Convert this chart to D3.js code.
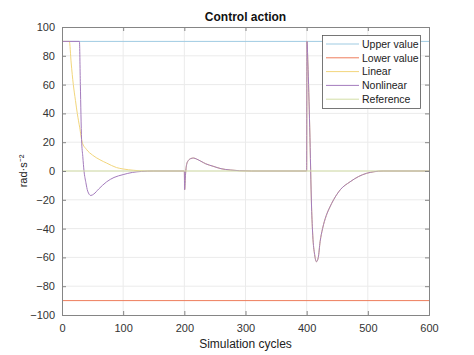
<!DOCTYPE html>
<html><head><meta charset="utf-8">
<script src="https://cdn.jsdelivr.net/npm/d3@7"></script>
<style>body{margin:0;background:#fff}svg{display:block;font-family:"Liberation Sans",Arial,sans-serif}</style>
</head><body><svg id="c" width="474" height="355"></svg>
<script>
const seriesNames = ["Upper value","Lower value","Linear","Nonlinear","Reference"];
const seriesColors = ["#9fcbe2","#ee7d5c","#f2d67c","#a47cbd","#d3dea6"];
const xTicks = [0,100,200,300,400,500,600];
const yTicks = [-100,-80,-60,-40,-20,0,20,40,60,80,100];

const upperX = [0,600], upperY = [90,90];
const lowerX = [0,600], lowerY = [-90,-90];
const refX = [0,600], refY = [0,0];

const linearX = [0,12,15,18.5,22,25,29,33,40,50,62,73,89,100,117,135,200,200.5,202,204,207,211,215,220,227,235,247,260,275,290,310,400,400.5,402,405,408,410,413,416,419,422,426,432,438,444,455,471,485,498,510,525,600];
const linearY = [90,90,75,60,49,40,30,20,15,11,7.8,5.5,2.4,1.4,0.5,0,0,-13,-2,5,7.5,8.7,9,8.3,6.8,5,3.3,1.6,0.7,0.2,0,0,90,75,30,-25,-45,-58,-63,-60,-49,-40,-31,-25,-20,-13,-7.5,-3.8,-1.6,-0.5,0,0];

const nonlinX = [0,28.5,30,32,34,36,39,42,47,52,60,73,85,100,115,130,150,200,200.5,202,204,207,211,215,220,227,235,247,260,275,290,310,400,400.5,402,405,408,410,413,416,419,422,426,432,438,444,455,471,485,498,510,525,600];
const nonlinY = [90,90,60,22,10,0,-8,-14,-17,-16,-12.5,-7.5,-4.5,-2.5,-1,-0.3,0,0,-13,-2,5,7.5,8.7,9,8.3,6.8,5,3.3,1.6,0.7,0.2,0,0,90,75,30,-25,-45,-58,-63,-60,-49,-40,-31,-25,-20,-13,-7.5,-3.8,-1.6,-0.5,0,0];

const svg = d3.select("#c");
const L=62, R=429, T=27, B=315;
const x = d3.scaleLinear().domain([0,600]).range([L,R]);
const y = d3.scaleLinear().domain([-100,100]).range([B,T]);

// grid
const g = svg.append("g");
xTicks.slice(1,-1).forEach(t=>g.append("line").attr("x1",x(t)).attr("x2",x(t)).attr("y1",T).attr("y2",B).attr("stroke","#ebebeb"));
yTicks.slice(1,-1).forEach(t=>g.append("line").attr("x1",L).attr("x2",R).attr("y1",y(t)).attr("y2",y(t)).attr("stroke","#ebebeb"));

// series
const line = d3.line().x(d=>x(d[0])).y(d=>y(d[1])).curve(d3.curveMonotoneX);
const data = [
  d3.zip(upperX,upperY), d3.zip(lowerX,lowerY), d3.zip(linearX,linearY), d3.zip(nonlinX,nonlinY), d3.zip(refX,refY)
];
data.forEach((d,i)=>svg.append("path").attr("d",line(d)).attr("fill","none").attr("stroke",seriesColors[i]).attr("stroke-width",1));

// axes
const ax = d3.axisBottom(x).tickValues(xTicks).tickSize(-4).tickPadding(9);
const ay = d3.axisLeft(y).tickValues(yTicks).tickSize(-4).tickPadding(7);
const axT = d3.axisTop(x).tickValues(xTicks).tickSize(-4).tickFormat("");
const ayR = d3.axisRight(y).tickValues(yTicks).tickSize(-4).tickFormat("");
function style(sel){sel.select(".domain").attr("stroke","#858585");sel.selectAll(".tick line").attr("stroke","#858585");sel.selectAll("text").attr("fill","#333").style("font-size","11px").style("font-family","Liberation Sans, Arial, sans-serif");}
svg.append("g").attr("transform",`translate(0,${B})`).call(ax).call(style);
svg.append("g").attr("transform",`translate(${L},0)`).call(ay).call(style);
svg.append("g").attr("transform",`translate(0,${T})`).call(axT).call(style);
svg.append("g").attr("transform",`translate(${R},0)`).call(ayR).call(style);

// labels
svg.append("text").attr("x",(L+R)/2).attr("y",21).attr("text-anchor","middle").attr("font-weight","bold").attr("font-size","12px").attr("fill","#111").text("Control action");
svg.append("text").attr("x",(L+R)/2).attr("y",348).attr("text-anchor","middle").attr("font-size","12px").attr("fill","#222").text("Simulation cycles");
svg.append("text").attr("transform",`translate(27,${(T+B)/2}) rotate(-90)`).attr("text-anchor","middle").attr("font-size","11px").attr("fill","#222").text("rad·s⁻²");

// legend
const lg = svg.append("g");
lg.append("rect").attr("x",322.5).attr("y",35.5).attr("width",98).attr("height",73).attr("fill","#fff").attr("stroke","#555").attr("stroke-width",0.8);
seriesNames.forEach((n,i)=>{
  const yy = 44 + i*13.8;
  lg.append("line").attr("x1",326).attr("x2",359).attr("y1",yy).attr("y2",yy).attr("stroke",seriesColors[i]).attr("stroke-width",1);
  lg.append("text").attr("x",362).attr("y",yy+3.8).attr("font-size","10.5px").attr("fill","#222").text(n);
});
</script></body></html>
